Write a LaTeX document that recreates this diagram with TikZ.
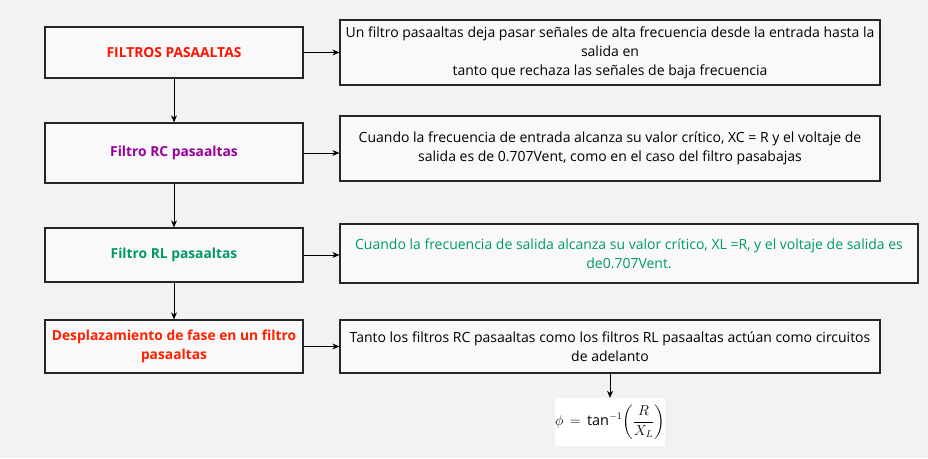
\documentclass[tikz,border=0pt]{standalone}
\usepackage{fontspec}
\setmainfont{Open Sans}
\usepackage{amsmath}
\usetikzlibrary{arrows.meta}
\begin{document}
\begin{tikzpicture}[x=1pt,y=-1pt,
  box/.style={draw=black!85,line width=1.3pt,fill=white!95!gray,inner sep=0pt,align=center,font=\fontsize{14}{19}\selectfont},
  lbox/.style={box,font=\fontsize{13.8}{19}\selectfont\bfseries},
  arr/.style={-{Stealth[length=7pt,width=6pt]},line width=0.8pt}]
\fill[black!5] (0,0) rectangle (928,458);
\useasboundingbox (0,0) rectangle (928,458);
\node[lbox,text=red!85!orange,minimum width=258,minimum height=51] (l1) at (174,52.5) {FILTROS PASAALTAS};
\node[box,minimum width=540,minimum height=65] (r1) at (610,52.5) {Un filtro pasaaltas deja pasar señales de alta frecuencia desde la entrada hasta la\\salida en\\tanto que rechaza las señales de baja frecuencia};
\node[lbox,text=violet!80!magenta,minimum width=258,minimum height=60] (l2) at (174,153) {Filtro RC pasaaltas};
\node[box,minimum width=540,minimum height=65] (r2) at (610,148.5) {Cuando la frecuencia de entrada alcanza su valor crítico, XC = R y el voltaje de\\salida es de 0.707Vent, como en el caso del filtro pasabajas};
\node[lbox,text=teal!80!green,minimum width=258,minimum height=54] (l3) at (174,255) {Filtro RL pasaaltas};
\node[box,text=teal!80!green,minimum width=578,minimum height=59] (r3) at (629,253.5) {Cuando la frecuencia de salida alcanza su valor crítico, XL =R, y el voltaje de salida es\\de0.707Vent.};
\node[lbox,text=red!75!orange,minimum width=258,minimum height=53] (l4) at (174,346.5) {Desplazamiento de fase en un filtro\\pasaaltas};
\node[box,minimum width=540,minimum height=53] (r4) at (610,346.5) {Tanto los filtros RC pasaaltas como los filtros RL pasaaltas actúan como circuitos\\de adelanto};
\node[fill=white,minimum width=106,minimum height=48,inner sep=0pt,font=\Large] (f) at (610,422) {\fontspec{Latin Modern Roman}$\phi\,=\,\tan^{-1}\!\left(\dfrac{R}{X_{L}}\right)$};
\foreach \a/\b in {l1/r1,l2/r2,l3/r3,l4/r4} \draw[arr] (\a.east) -- (\a.east -| \b.west);
\foreach \a/\b in {l1/l2,l2/l3,l3/l4} \draw[arr] (\a.south) -- (\b.north);
\draw[arr] (r4.south) -- (f.north);
\end{tikzpicture}
\end{document}
